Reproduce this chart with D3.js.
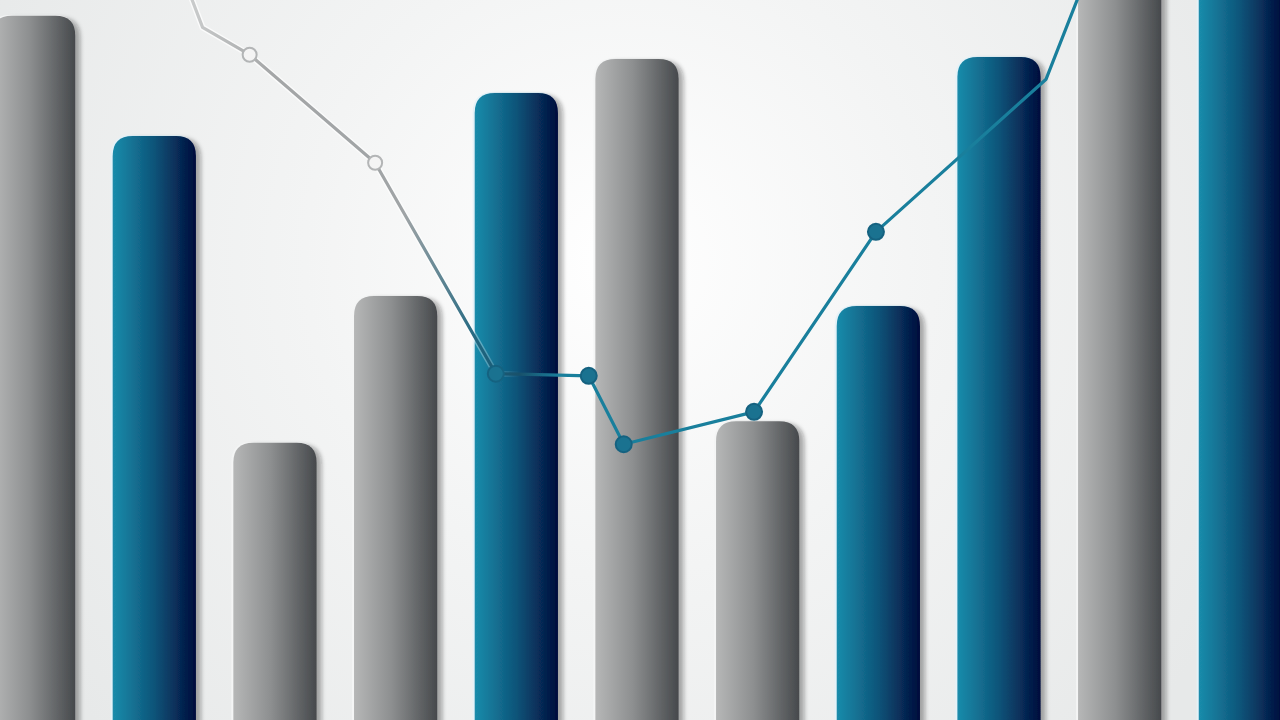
<!DOCTYPE html>
<html>
<head>
<meta charset="utf-8">
<script src="https://cdn.jsdelivr.net/npm/d3@7"></script>
<style>
  html, body { margin: 0; padding: 0; background: #eceeee; overflow: hidden; }
  svg { display: block; }
</style>
</head>
<body>
<svg id="chart" width="1280" height="720"></svg>
<script>
// ---- data ----
const categories = ["P1","P2","P3","P4","P5","P6","P7","P8","P9","P10","P11"];
const barValues  = [97.8, 81.1, 38.5, 58.9, 87.1, 91.8, 41.5, 57.5, 92.1, 106, 108];
const barSeries  = ["gray","blue","gray","gray","blue","gray","gray","blue","blue","gray","blue"];

// trend line (x in category units, y in value units)
const lineX      = [1.25, 1.4, 1.79, 2.83, 3.83, 4.60, 4.89, 5.97, 6.98, 8.39, 8.68];
const lineY      = [102.8, 96.2, 92.4, 77.4, 48.1, 47.8, 38.3, 42.8, 67.8, 89.0, 101.4];
const lineMarker = ["none","none","hollow","hollow","filled","filled","filled","filled","filled","none","none"];

// ---- setup ----
const W = 1280, H = 720;
const svg = d3.select("#chart");
const defs = svg.append("defs");

const x = d3.scaleBand().domain(categories).range([-8, 1282]).paddingInner(0.31).paddingOuter(0);
const y = d3.scaleLinear().domain([0, 100]).range([H, 0]);
const bw = x.bandwidth();
const xl = d3.scaleLinear().domain([0, categories.length - 1])
  .range([x(categories[0]) + bw / 2, x(categories[categories.length - 1]) + bw / 2]);

// background
const bg = defs.append("radialGradient").attr("id", "bg")
  .attr("gradientUnits", "userSpaceOnUse").attr("cx", 620).attr("cy", 260).attr("r", 700);
bg.append("stop").attr("offset", 0).attr("stop-color", "#ffffff");
bg.append("stop").attr("offset", 0.45).attr("stop-color", "#f3f4f4");
bg.append("stop").attr("offset", 1).attr("stop-color", "#e7e9e9");
svg.append("rect").attr("width", W).attr("height", H).attr("fill", "url(#bg)");

// bar gradients
const gGray = defs.append("linearGradient").attr("id", "gGray").attr("x1", 0).attr("x2", 1).attr("y1", 0).attr("y2", 0);
[[0, "#b6b7b7"], [0.45, "#8d8f90"], [1, "#46494c"]].forEach(s =>
  gGray.append("stop").attr("offset", s[0]).attr("stop-color", s[1]));
const gBlue = defs.append("linearGradient").attr("id", "gBlue").attr("x1", 0).attr("x2", 1).attr("y1", 0).attr("y2", 0);
[[0, "#1a8cab"], [0.5, "#0d5479"], [1, "#020c3c"]].forEach(s =>
  gBlue.append("stop").attr("offset", s[0]).attr("stop-color", s[1]));

const shadow = defs.append("filter").attr("id", "shadow").attr("x", "-20%").attr("y", "-20%").attr("width", "150%").attr("height", "150%");
shadow.append("feDropShadow").attr("dx", 5).attr("dy", 2).attr("stdDeviation", 2)
  .attr("flood-color", "#1a1e22").attr("flood-opacity", 0.35);

function barPath(x0, top, w, bottom, r) {
  return `M${x0},${bottom} L${x0},${top + r} Q${x0},${top} ${x0 + r},${top} ` +
         `L${x0 + w - r},${top} Q${x0 + w},${top} ${x0 + w},${top + r} L${x0 + w},${bottom} Z`;
}

const bars = categories.map((c, i) => ({ c, v: barValues[i], s: barSeries[i] }));

// light rim on the left edge
svg.append("g").selectAll("path").data(bars).join("path")
  .attr("d", d => barPath(x(d.c) - 2, y(d.v) - 1, bw + 2, H + 20, 21))
  .attr("fill", d => d.s === "blue" ? "#e4f2f8" : "#f4f5f5");

svg.append("g").selectAll("path").data(bars).join("path")
  .attr("d", d => barPath(x(d.c), y(d.v), bw, H + 20, 20))
  .attr("fill", d => d.s === "blue" ? "url(#gBlue)" : "url(#gGray)")
  .attr("filter", "url(#shadow)");

// ---- line ----
const pts = lineX.map((v, i) => ({ x: xl(v), y: y(lineY[i]), m: lineMarker[i] }));

const lg = defs.append("linearGradient").attr("id", "lineGrad").attr("gradientUnits", "userSpaceOnUse")
  .attr("x1", 150).attr("x2", 560).attr("y1", 0).attr("y2", 0);
[[0, "#dcdede"], [0.3, "#a4a6a7"], [0.62, "#a0a4a6"], [0.8, "#1f6680"], [0.9, "#18506a"], [1, "#197f9c"]].forEach(s =>
  lg.append("stop").attr("offset", s[0]).attr("stop-color", s[1]));

const halo = defs.append("linearGradient").attr("id", "haloGrad").attr("gradientUnits", "userSpaceOnUse")
  .attr("x1", 150).attr("x2", 520).attr("y1", 0).attr("y2", 0);
halo.append("stop").attr("offset", 0).attr("stop-color", "#ffffff").attr("stop-opacity", 0.8);
halo.append("stop").attr("offset", 0.8).attr("stop-color", "#ffffff").attr("stop-opacity", 0.6);
halo.append("stop").attr("offset", 1).attr("stop-color", "#ffffff").attr("stop-opacity", 0);

const line = d3.line().x(d => d.x).y(d => d.y).curve(d3.curveLinear);

svg.append("path").datum(pts).attr("d", line)
  .attr("fill", "none").attr("stroke", "url(#haloGrad)")
  .attr("stroke-width", 6).attr("stroke-linejoin", "round");
svg.append("path").datum(pts).attr("d", line)
  .attr("fill", "none").attr("stroke", "url(#lineGrad)")
  .attr("stroke-width", 3.2).attr("stroke-linejoin", "round").attr("stroke-linecap", "round");

svg.append("g").selectAll("circle").data(pts.filter(d => d.m !== "none")).join("circle")
  .attr("cx", d => d.x).attr("cy", d => d.y)
  .attr("r", d => d.m === "hollow" ? 7 : 8)
  .attr("fill", d => d.m === "hollow" ? "#f4f4f4" : "#1a7290")
  .attr("stroke", d => d.m === "hollow" ? "#b3b5b6" : "#156280")
  .attr("stroke-width", 2);
</script>
</body>
</html>
